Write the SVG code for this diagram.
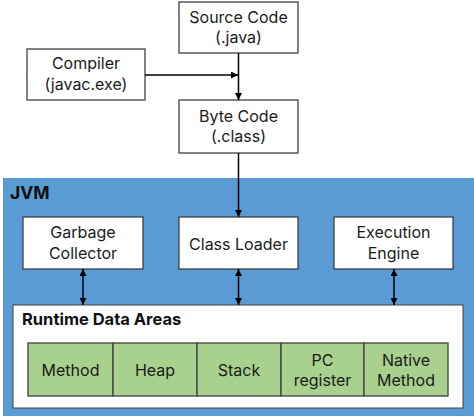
<svg xmlns="http://www.w3.org/2000/svg" width="474" height="416" viewBox="0 0 474 416">
<defs>
<style>
.box{fill:#fff;stroke:#404040;stroke-width:1.3}
.cell{fill:#a9d18e;stroke:#404040;stroke-width:1.3}
.t{font-family:Inter,"Noto Sans","Liberation Sans",sans-serif;font-size:16px;fill:#1a1a1a;text-anchor:middle}
.b{font-family:Inter,"Noto Sans","Liberation Sans",sans-serif;font-size:16.5px;font-weight:bold;fill:#111}
.ln{stroke:#000;stroke-width:1.5;fill:none}
</style>
<marker id="ah" viewBox="0 0 10 10" refX="10" refY="5" markerWidth="7" markerHeight="7" markerUnits="userSpaceOnUse" orient="auto-start-reverse">
<path d="M0,0 L10,5 L0,10 z" fill="#000"/>
</marker>
</defs>
<rect width="474" height="416" fill="#fff"/>
<g id="jvm">
<rect x="3" y="178" width="471" height="238" fill="#5b9bd5"/>
<text class="b" x="10" y="199" style="font-size:17.5px">JVM</text>
</g>
<g id="source">
<rect class="box" x="179" y="2" width="119" height="51"/>
<text class="t" x="238.5" y="23">Source Code</text>
<text class="t" x="238.5" y="43">(.java)</text>
</g>
<g id="compiler">
<rect class="box" x="27" y="49" width="118" height="51"/>
<text class="t" x="86" y="69">Compiler</text>
<text class="t" x="86" y="90">(javac.exe)</text>
</g>
<g id="bytecode">
<rect class="box" x="179" y="100" width="119" height="53"/>
<text class="t" x="238.5" y="122">Byte Code</text>
<text class="t" x="238.5" y="142">(.class)</text>
</g>
<g id="gc">
<rect class="box" x="23" y="217" width="120" height="52"/>
<text class="t" x="83" y="238">Garbage</text>
<text class="t" x="83" y="259">Collector</text>
</g>
<g id="classloader">
<rect class="box" x="179" y="217" width="119" height="52"/>
<text class="t" x="238.5" y="250">Class Loader</text>
</g>
<g id="engine">
<rect class="box" x="334" y="217" width="119" height="52"/>
<text class="t" x="393.5" y="238">Execution</text>
<text class="t" x="393.5" y="259">Engine</text>
</g>
<g id="runtime">
<rect x="13" y="305" width="450" height="103" fill="#fff" stroke="#404040" stroke-width="1"/>
<text class="b" x="22" y="325">Runtime Data Areas</text>
</g>
<g id="method">
<rect class="cell" x="28" y="343" width="85" height="53"/>
<text class="t" x="70.5" y="376">Method</text>
</g>
<g id="heap">
<rect class="cell" x="113" y="343" width="84" height="53"/>
<text class="t" x="155" y="376">Heap</text>
</g>
<g id="stack">
<rect class="cell" x="197" y="343" width="84" height="53"/>
<text class="t" x="239" y="376">Stack</text>
</g>
<g id="pc">
<rect class="cell" x="281" y="343" width="83" height="53"/>
<text class="t" x="322.5" y="366">PC</text>
<text class="t" x="322.5" y="386">register</text>
</g>
<g id="native">
<rect class="cell" x="364" y="343" width="84" height="53"/>
<text class="t" x="406" y="366">Native</text>
<text class="t" x="406" y="386">Method</text>
</g>
<g id="connectors">
<line class="ln" x1="238.5" y1="53" x2="238.5" y2="100" marker-end="url(#ah)"/>
<line class="ln" x1="145" y1="75" x2="238" y2="75" marker-end="url(#ah)"/>
<line class="ln" x1="238.5" y1="153" x2="238.5" y2="217" marker-end="url(#ah)"/>
<line class="ln" x1="83" y1="269" x2="83" y2="305" marker-start="url(#ah)" marker-end="url(#ah)"/>
<line class="ln" x1="238.5" y1="269" x2="238.5" y2="305" marker-start="url(#ah)" marker-end="url(#ah)"/>
<line class="ln" x1="394" y1="269" x2="394" y2="305" marker-start="url(#ah)" marker-end="url(#ah)"/>
</g>
</svg>
